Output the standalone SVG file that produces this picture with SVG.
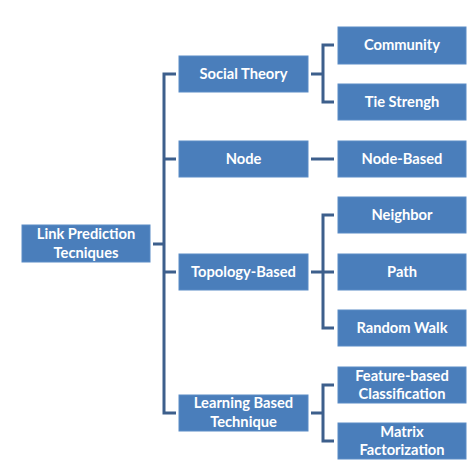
<svg xmlns="http://www.w3.org/2000/svg" width="474" height="474" viewBox="0 0 474 474">
<style>
.box{fill:#4a7ebb;stroke:#5a8cc6;stroke-width:1}
.t{font-family:"Lato","Liberation Sans",sans-serif;font-weight:bold;font-size:14.7px;fill:#ffffff;text-anchor:middle}
.c{fill:none;stroke:#3d5f8c;stroke-width:3}
</style>
<rect width="474" height="474" fill="#ffffff"/>
<g id="connectors">
<path class="c" d="M153,244H164M176,74H164V413H176M164,159H176M164,272H176"/>
<path class="c" d="M311,74H323M334,45H323V102H334"/>
<path class="c" d="M311,159H334"/>
<path class="c" d="M311,272H323M334,215H323V328H334M323,272H334"/>
<path class="c" d="M311,413H323M334,385H323V441H334"/>
</g>
<g id="link-prediction"><rect class="box" x="22" y="225" width="128" height="37"/><text class="t" x="86" y="239">Link Prediction</text><text class="t" x="86" y="258">Tecniques</text></g>
<g id="social-theory"><rect class="box" x="179" y="56" width="129" height="36"/><text class="t" x="243.5" y="79">Social Theory</text></g>
<g id="node"><rect class="box" x="179" y="141" width="129" height="36"/><text class="t" x="243.5" y="164">Node</text></g>
<g id="topology-based"><rect class="box" x="179" y="254" width="129" height="36"/><text class="t" x="243.5" y="277">Topology-Based</text></g>
<g id="learning-based"><rect class="box" x="179" y="395" width="129" height="36"/><text class="t" x="243.5" y="408">Learning Based</text><text class="t" x="243.5" y="427">Technique</text></g>
<g id="community"><rect class="box" x="338" y="27" width="128" height="37"/><text class="t" x="402" y="50">Community</text></g>
<g id="tie-strengh"><rect class="box" x="338" y="84" width="128" height="36"/><text class="t" x="402" y="107">Tie Strengh</text></g>
<g id="node-based"><rect class="box" x="338" y="141" width="128" height="36"/><text class="t" x="402" y="164">Node-Based</text></g>
<g id="neighbor"><rect class="box" x="338" y="197" width="128" height="36"/><text class="t" x="402" y="220">Neighbor</text></g>
<g id="path"><rect class="box" x="338" y="254" width="128" height="36"/><text class="t" x="402" y="277">Path</text></g>
<g id="random-walk"><rect class="box" x="338" y="310" width="128" height="36"/><text class="t" x="402" y="333">Random Walk</text></g>
<g id="feature-based"><rect class="box" x="338" y="367" width="128" height="36"/><text class="t" x="402" y="381">Feature-based</text><text class="t" x="402" y="399">Classification</text></g>
<g id="matrix"><rect class="box" x="338" y="423" width="128" height="36"/><text class="t" x="402" y="437">Matrix</text><text class="t" x="402" y="455">Factorization</text></g>
</svg>
